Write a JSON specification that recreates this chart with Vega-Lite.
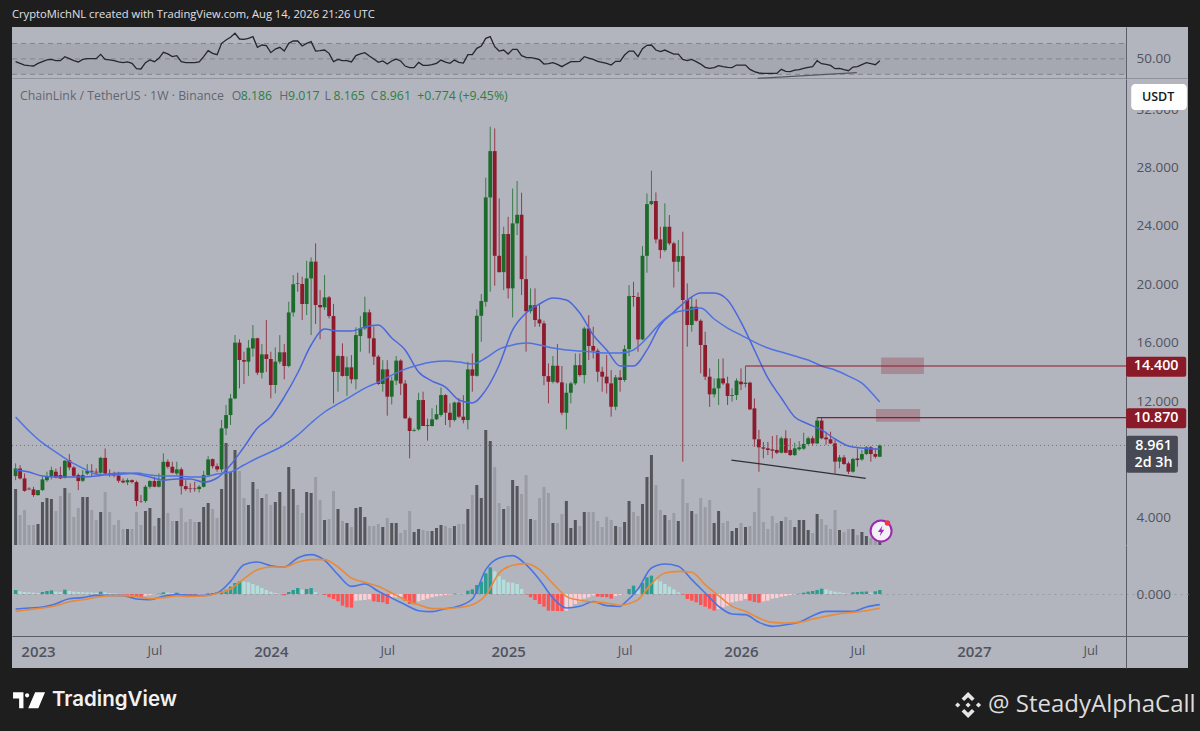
{
  "$schema": "https://vega.github.io/schema/vega-lite/v6.json",
  "background": "#1e1e1e",
  "padding": {"left": 11, "right": 8, "top": 0, "bottom": 0},
  "spacing": 0,
  "bounds": "flush",
  "config": {
    "font": "Open Sans",
    "axis": {"grid": false, "ticks": false, "title": null, "labelFont": "Open Sans", "labelColor": "#50535e", "domainColor": "#5a5d66"},
    "view": {"stroke": null}
  },
  "datasets": {
    "candles": [
      {"d":"2022-11-28","o":6.86,"h":7.73,"l":6.58,"c":7.38,"v":56,"hist":0.12,"rsi":46.4},
      {"d":"2022-12-05","o":7.38,"h":7.61,"l":6.63,"c":6.7,"v":30,"hist":0.08,"rsi":44.2},
      {"d":"2022-12-12","o":6.7,"h":7.04,"l":5.79,"c":5.85,"v":35,"hist":0.06,"rsi":42},
      {"d":"2022-12-19","o":6,"h":6.1,"l":5.9,"c":5.95,"v":20,"hist":0.05,"rsi":41.2},
      {"d":"2022-12-26","o":5.95,"h":6.13,"l":5.44,"c":5.56,"v":20,"hist":0.04,"rsi":40.8},
      {"d":"2023-01-02","o":5.56,"h":5.9,"l":5.51,"c":5.9,"v":21,"hist":0.03,"rsi":44.2},
      {"d":"2023-01-09","o":5.9,"h":6.81,"l":5.85,"c":6.63,"v":43,"hist":0.06,"rsi":46.4},
      {"d":"2023-01-16","o":6.58,"h":7.16,"l":6.47,"c":6.81,"v":47,"hist":0.09,"rsi":48.6},
      {"d":"2023-01-23","o":6.86,"h":7.5,"l":6.63,"c":7.27,"v":46,"hist":0.11,"rsi":49.4},
      {"d":"2023-01-30","o":7.16,"h":7.38,"l":6.7,"c":6.77,"v":34,"hist":0.07,"rsi":47.7},
      {"d":"2023-02-06","o":6.93,"h":7.5,"l":6.66,"c":6.7,"v":49,"hist":0.06,"rsi":47.7},
      {"d":"2023-02-13","o":6.75,"h":7.95,"l":6.7,"c":7.91,"v":57,"hist":0.13,"rsi":52.9},
      {"d":"2023-02-20","o":7.95,"h":8.37,"l":7.27,"c":7.45,"v":52,"hist":0.09,"rsi":50.3},
      {"d":"2023-02-27","o":7.45,"h":7.54,"l":6.81,"c":6.88,"v":28,"hist":0.07,"rsi":47.7},
      {"d":"2023-03-06","o":6.93,"h":7.04,"l":5.9,"c":6.52,"v":37,"hist":0.06,"rsi":46},
      {"d":"2023-03-13","o":6.54,"h":7.27,"l":6.45,"c":6.93,"v":48,"hist":0.055,"rsi":49.4},
      {"d":"2023-03-20","o":7.04,"h":7.68,"l":6.93,"c":7.22,"v":48,"hist":0.05,"rsi":50.3},
      {"d":"2023-03-27","o":7.22,"h":7.68,"l":6.81,"c":7.16,"v":35,"hist":0.045,"rsi":50.3},
      {"d":"2023-04-03","o":7.16,"h":7.38,"l":6.93,"c":7.11,"v":25,"hist":0.04,"rsi":50.3},
      {"d":"2023-04-10","o":7.09,"h":8.18,"l":7.04,"c":8.11,"v":33,"hist":0.07,"rsi":55.9},
      {"d":"2023-04-17","o":8.11,"h":8.75,"l":6.93,"c":7.04,"v":53,"hist":0.05,"rsi":49.4},
      {"d":"2023-04-24","o":7.04,"h":7.32,"l":6.81,"c":6.97,"v":33,"hist":0.03,"rsi":48.6},
      {"d":"2023-05-01","o":7.04,"h":7.16,"l":6.77,"c":6.9,"v":20,"hist":0.02,"rsi":47.7},
      {"d":"2023-05-08","o":6.9,"h":7.16,"l":6.4,"c":6.54,"v":25,"hist":0.005,"rsi":46},
      {"d":"2023-05-15","o":6.54,"h":6.7,"l":6.36,"c":6.43,"v":16,"hist":-0.01,"rsi":45.1},
      {"d":"2023-05-22","o":6.43,"h":6.7,"l":6.24,"c":6.58,"v":16,"hist":-0.02,"rsi":46},
      {"d":"2023-05-29","o":6.58,"h":6.63,"l":6.36,"c":6.45,"v":16,"hist":-0.05,"rsi":44.2},
      {"d":"2023-06-05","o":6.45,"h":6.54,"l":4.8,"c":5.15,"v":33,"hist":-0.07,"rsi":37.3},
      {"d":"2023-06-12","o":5.15,"h":5.56,"l":5.03,"c":5.12,"v":20,"hist":-0.09,"rsi":36.9},
      {"d":"2023-06-19","o":5.15,"h":6.24,"l":5.03,"c":6.13,"v":34,"hist":-0.05,"rsi":45.1},
      {"d":"2023-06-26","o":6.13,"h":6.58,"l":6,"c":6.52,"v":37,"hist":-0.03,"rsi":48.6},
      {"d":"2023-07-03","o":6.52,"h":6.8,"l":6.1,"c":6.13,"v":19,"hist":-0.01,"rsi":46.4},
      {"d":"2023-07-10","o":6.13,"h":7.04,"l":6.08,"c":6.54,"v":27,"hist":0.01,"rsi":50.7},
      {"d":"2023-07-17","o":6.58,"h":8.41,"l":6.52,"c":7.84,"v":67,"hist":0.05,"rsi":58.5},
      {"d":"2023-07-24","o":7.84,"h":8,"l":7.38,"c":7.5,"v":32,"hist":0.04,"rsi":56.4},
      {"d":"2023-07-31","o":7.5,"h":7.84,"l":7.04,"c":7.09,"v":24,"hist":0.03,"rsi":52.9},
      {"d":"2023-08-07","o":7.04,"h":7.84,"l":6.93,"c":7.32,"v":24,"hist":0.04,"rsi":54.2},
      {"d":"2023-08-14","o":7.32,"h":7.45,"l":5.6,"c":6.17,"v":37,"hist":0.02,"rsi":46.4},
      {"d":"2023-08-21","o":6.17,"h":6.58,"l":5.85,"c":5.97,"v":23,"hist":-0.01,"rsi":45.1},
      {"d":"2023-08-28","o":6.01,"h":6.36,"l":5.74,"c":5.97,"v":26,"hist":-0.04,"rsi":45.1},
      {"d":"2023-09-04","o":6.01,"h":6.47,"l":5.79,"c":5.97,"v":23,"hist":-0.05,"rsi":45.1},
      {"d":"2023-09-11","o":5.97,"h":6.24,"l":5.74,"c":6.13,"v":23,"hist":-0.04,"rsi":46},
      {"d":"2023-09-18","o":6.13,"h":7.22,"l":6.08,"c":6.93,"v":38,"hist":-0.02,"rsi":52.9},
      {"d":"2023-09-25","o":6.93,"h":8.23,"l":6.8,"c":8,"v":42,"hist":0.02,"rsi":60.7},
      {"d":"2023-10-02","o":8.02,"h":8.07,"l":7.38,"c":7.54,"v":36,"hist":0.03,"rsi":57.2},
      {"d":"2023-10-09","o":7.54,"h":7.73,"l":7.16,"c":7.32,"v":27,"hist":0.05,"rsi":55.5},
      {"d":"2023-10-16","o":7.32,"h":10.7,"l":7.1,"c":10.13,"v":56,"hist":0.08,"rsi":70.2},
      {"d":"2023-10-23","o":10.13,"h":11.73,"l":9.67,"c":11.04,"v":102,"hist":0.13,"rsi":74.5},
      {"d":"2023-10-30","o":11.04,"h":12.48,"l":10.36,"c":12.18,"v":73,"hist":0.22,"rsi":78},
      {"d":"2023-11-06","o":12.18,"h":16.52,"l":12.12,"c":16,"v":95,"hist":0.33,"rsi":83.2},
      {"d":"2023-11-13","o":16,"h":16.23,"l":12.87,"c":14.81,"v":74,"hist":0.38,"rsi":75.8},
      {"d":"2023-11-20","o":14.81,"h":15.38,"l":13.17,"c":14.7,"v":47,"hist":0.37,"rsi":75.4},
      {"d":"2023-11-27","o":14.7,"h":16.18,"l":13.71,"c":15.65,"v":40,"hist":0.35,"rsi":76.7},
      {"d":"2023-12-04","o":15.6,"h":17.2,"l":15.04,"c":16.3,"v":63,"hist":0.3,"rsi":78.9},
      {"d":"2023-12-11","o":16.3,"h":16.34,"l":13.78,"c":13.94,"v":56,"hist":0.25,"rsi":65},
      {"d":"2023-12-18","o":13.94,"h":15.9,"l":13.55,"c":15.2,"v":47,"hist":0.18,"rsi":68},
      {"d":"2023-12-25","o":15.2,"h":17.55,"l":14,"c":14.88,"v":51,"hist":0.12,"rsi":67.2},
      {"d":"2024-01-01","o":14.88,"h":15.38,"l":12.19,"c":13.1,"v":40,"hist":0.07,"rsi":58.1},
      {"d":"2024-01-08","o":13.1,"h":15.68,"l":12.53,"c":14.7,"v":43,"hist":0.03,"rsi":62.8},
      {"d":"2024-01-15","o":14.7,"h":16.52,"l":14.54,"c":15.34,"v":53,"hist":0.01,"rsi":65},
      {"d":"2024-01-22","o":15.34,"h":15.9,"l":13.49,"c":14.4,"v":39,"hist":-0.04,"rsi":60.2},
      {"d":"2024-01-29","o":14.4,"h":18.8,"l":14.31,"c":18.07,"v":78,"hist":0.06,"rsi":70.2},
      {"d":"2024-02-05","o":18.07,"h":20.63,"l":17.78,"c":20,"v":56,"hist":0.12,"rsi":73.2},
      {"d":"2024-02-12","o":20.06,"h":20.79,"l":19.49,"c":20.02,"v":40,"hist":0.18,"rsi":73.2},
      {"d":"2024-02-19","o":20.02,"h":20.52,"l":17.55,"c":18.65,"v":32,"hist":0.13,"rsi":66.7},
      {"d":"2024-02-26","o":18.65,"h":21.61,"l":17.89,"c":20.4,"v":53,"hist":0.15,"rsi":70.2},
      {"d":"2024-03-04","o":20.4,"h":21.84,"l":16.52,"c":21.55,"v":52,"hist":0.18,"rsi":72.4},
      {"d":"2024-03-11","o":21.55,"h":22.8,"l":17.28,"c":18.58,"v":68,"hist":0.06,"rsi":60.2},
      {"d":"2024-03-18","o":18.58,"h":19.6,"l":16.23,"c":18.42,"v":45,"hist":0,"rsi":60.7},
      {"d":"2024-03-25","o":18.42,"h":20.63,"l":18.24,"c":19.1,"v":25,"hist":-0.03,"rsi":61.5},
      {"d":"2024-04-01","o":19.1,"h":19.2,"l":17.66,"c":17.82,"v":26,"hist":-0.1,"rsi":57.2},
      {"d":"2024-04-08","o":17.82,"h":18.65,"l":11.84,"c":14,"v":54,"hist":-0.15,"rsi":46.4},
      {"d":"2024-04-15","o":14,"h":15.15,"l":12.64,"c":15.08,"v":36,"hist":-0.22,"rsi":49.4},
      {"d":"2024-04-22","o":15.08,"h":15.95,"l":13.67,"c":13.72,"v":24,"hist":-0.35,"rsi":47.7},
      {"d":"2024-04-29","o":13.72,"h":15.04,"l":12.35,"c":14.31,"v":22,"hist":-0.4,"rsi":47.7},
      {"d":"2024-05-06","o":14.31,"h":15.15,"l":13.2,"c":13.49,"v":18,"hist":-0.41,"rsi":46},
      {"d":"2024-05-13","o":13.49,"h":17.05,"l":12.8,"c":16.52,"v":37,"hist":-0.2,"rsi":54.2},
      {"d":"2024-05-20","o":16.45,"h":17.82,"l":15.38,"c":16.98,"v":38,"hist":-0.19,"rsi":56.4},
      {"d":"2024-05-27","o":16.98,"h":19.15,"l":16.87,"c":18.08,"v":28,"hist":-0.18,"rsi":58.1},
      {"d":"2024-06-03","o":18.08,"h":18.28,"l":15.27,"c":16.3,"v":19,"hist":-0.16,"rsi":53.8},
      {"d":"2024-06-10","o":16.3,"h":17.1,"l":14.47,"c":15.04,"v":19,"hist":-0.22,"rsi":49.8},
      {"d":"2024-06-17","o":15.04,"h":15.15,"l":13.1,"c":13.17,"v":21,"hist":-0.24,"rsi":45.5},
      {"d":"2024-06-24","o":13.17,"h":14.8,"l":12.64,"c":14.17,"v":18,"hist":-0.25,"rsi":47.3},
      {"d":"2024-07-01","o":14.17,"h":14.8,"l":11,"c":12.3,"v":27,"hist":-0.3,"rsi":43.4},
      {"d":"2024-07-08","o":12.3,"h":13.67,"l":11.77,"c":13.4,"v":22,"hist":-0.12,"rsi":47.3},
      {"d":"2024-07-15","o":13.4,"h":15.08,"l":13.1,"c":14.77,"v":22,"hist":-0.1,"rsi":49.8},
      {"d":"2024-07-22","o":14.77,"h":14.86,"l":12.41,"c":13.2,"v":12,"hist":-0.08,"rsi":47.3},
      {"d":"2024-07-29","o":13.2,"h":13.44,"l":10.77,"c":10.82,"v":15,"hist":-0.2,"rsi":40.7},
      {"d":"2024-08-05","o":10.82,"h":10.93,"l":8.08,"c":9.95,"v":34,"hist":-0.3,"rsi":38.6},
      {"d":"2024-08-12","o":9.95,"h":10.13,"l":9.9,"c":10,"v":13,"hist":-0.31,"rsi":38.6},
      {"d":"2024-08-19","o":10.06,"h":12.57,"l":9.97,"c":12.07,"v":16,"hist":-0.22,"rsi":45.5},
      {"d":"2024-08-26","o":12.07,"h":12.64,"l":10.29,"c":10.29,"v":15,"hist":-0.18,"rsi":41.6},
      {"d":"2024-09-02","o":10.35,"h":10.8,"l":9.29,"c":10.29,"v":14,"hist":-0.14,"rsi":41.6},
      {"d":"2024-09-09","o":10.29,"h":11.5,"l":10.25,"c":10.75,"v":14,"hist":-0.1,"rsi":42.5},
      {"d":"2024-09-16","o":10.75,"h":11.73,"l":10.7,"c":11.1,"v":17,"hist":-0.07,"rsi":44.2},
      {"d":"2024-09-23","o":11.05,"h":12.92,"l":10.93,"c":12.41,"v":20,"hist":-0.05,"rsi":48.5},
      {"d":"2024-09-30","o":12.41,"h":12.48,"l":10.36,"c":11.2,"v":19,"hist":-0.03,"rsi":45.9},
      {"d":"2024-10-07","o":11.2,"h":11.84,"l":10.2,"c":10.7,"v":17,"hist":-0.02,"rsi":44.2},
      {"d":"2024-10-14","o":10.7,"h":11.96,"l":10.59,"c":11.9,"v":19,"hist":0.01,"rsi":48.5},
      {"d":"2024-10-21","o":11.9,"h":12.2,"l":10.82,"c":10.93,"v":21,"hist":0.009,"rsi":45.5},
      {"d":"2024-10-28","o":10.93,"h":12.4,"l":10.47,"c":10.7,"v":21,"hist":0.008,"rsi":44.6},
      {"d":"2024-11-04","o":10.7,"h":14.69,"l":10.06,"c":14.17,"v":36,"hist":0.1,"rsi":55.5},
      {"d":"2024-11-11","o":14.17,"h":15.26,"l":12.64,"c":13.73,"v":50,"hist":0.14,"rsi":55.5},
      {"d":"2024-11-18","o":13.73,"h":18.28,"l":13.67,"c":17.84,"v":60,"hist":0.27,"rsi":63.7},
      {"d":"2024-11-25","o":17.84,"h":19.33,"l":16.06,"c":18.85,"v":47,"hist":0.37,"rsi":66.7},
      {"d":"2024-12-02","o":18.8,"h":27.3,"l":18.46,"c":25.95,"v":115,"hist":0.62,"rsi":76.7},
      {"d":"2024-12-09","o":25.95,"h":30.79,"l":19.49,"c":29.12,"v":104,"hist":0.8,"rsi":78.9},
      {"d":"2024-12-16","o":29.12,"h":30.67,"l":19.9,"c":21.95,"v":78,"hist":0.68,"rsi":65.9},
      {"d":"2024-12-23","o":21.95,"h":25.88,"l":20.81,"c":20.83,"v":42,"hist":0.53,"rsi":60.2},
      {"d":"2024-12-30","o":20.83,"h":23.94,"l":19.6,"c":23.44,"v":36,"hist":0.43,"rsi":61.5},
      {"d":"2025-01-06","o":23.44,"h":24.62,"l":19.03,"c":19.72,"v":39,"hist":0.35,"rsi":56.3},
      {"d":"2025-01-13","o":19.72,"h":26.56,"l":17.73,"c":24.17,"v":65,"hist":0.34,"rsi":62.4},
      {"d":"2025-01-20","o":24.17,"h":27.07,"l":23.37,"c":24.76,"v":59,"hist":0.3,"rsi":62.4},
      {"d":"2025-01-27","o":24.76,"h":26.27,"l":19.26,"c":20.35,"v":51,"hist":0.15,"rsi":54.2},
      {"d":"2025-02-03","o":20.35,"h":21.95,"l":15.38,"c":18.16,"v":70,"hist":-0.01,"rsi":52},
      {"d":"2025-02-10","o":18.16,"h":19.72,"l":18,"c":18.57,"v":26,"hist":-0.1,"rsi":51.6},
      {"d":"2025-02-17","o":18.57,"h":19.72,"l":17.09,"c":17.55,"v":25,"hist":-0.18,"rsi":50.7},
      {"d":"2025-02-24","o":17.59,"h":18.69,"l":17.09,"c":17.32,"v":47,"hist":-0.3,"rsi":49},
      {"d":"2025-03-03","o":17.32,"h":17.5,"l":13.09,"c":13.71,"v":58,"hist":-0.38,"rsi":43.3},
      {"d":"2025-03-10","o":13.71,"h":14.58,"l":11.84,"c":13.32,"v":52,"hist":-0.5,"rsi":43.8},
      {"d":"2025-03-17","o":13.32,"h":15.08,"l":13.21,"c":14.42,"v":22,"hist":-0.505,"rsi":45.1},
      {"d":"2025-03-24","o":14.42,"h":15.9,"l":13.21,"c":13.28,"v":22,"hist":-0.51,"rsi":42.9},
      {"d":"2025-03-31","o":13.28,"h":14.4,"l":11.04,"c":11.2,"v":31,"hist":-0.515,"rsi":39.9},
      {"d":"2025-04-07","o":11.2,"h":13.21,"l":10.06,"c":12.57,"v":44,"hist":-0.5,"rsi":43.3},
      {"d":"2025-04-14","o":12.57,"h":13.32,"l":11.84,"c":13.21,"v":17,"hist":-0.38,"rsi":46.4},
      {"d":"2025-04-21","o":13.21,"h":15.26,"l":13.09,"c":14.46,"v":25,"hist":-0.3,"rsi":46.4},
      {"d":"2025-04-28","o":14.46,"h":15.26,"l":13.67,"c":13.78,"v":19,"hist":-0.22,"rsi":46.8},
      {"d":"2025-05-05","o":13.78,"h":17.09,"l":13.21,"c":16.97,"v":33,"hist":-0.14,"rsi":52.9},
      {"d":"2025-05-12","o":16.97,"h":17.89,"l":14.81,"c":15.77,"v":33,"hist":-0.1,"rsi":51.1},
      {"d":"2025-05-19","o":15.77,"h":17.09,"l":14.92,"c":15.45,"v":33,"hist":-0.04,"rsi":49.4},
      {"d":"2025-05-26","o":15.45,"h":15.6,"l":13.32,"c":14.01,"v":24,"hist":-0.08,"rsi":46.8},
      {"d":"2025-06-02","o":14.01,"h":14.35,"l":12.64,"c":13.67,"v":18,"hist":-0.09,"rsi":45.5},
      {"d":"2025-06-09","o":13.67,"h":15.15,"l":12.52,"c":13.21,"v":28,"hist":-0.095,"rsi":44.2},
      {"d":"2025-06-16","o":13.21,"h":14.12,"l":10.93,"c":11.61,"v":25,"hist":-0.14,"rsi":42},
      {"d":"2025-06-23","o":11.61,"h":13.78,"l":11.38,"c":13.62,"v":19,"hist":-0.06,"rsi":46.8},
      {"d":"2025-06-30","o":13.62,"h":14.12,"l":12.64,"c":13.44,"v":18,"hist":-0.03,"rsi":46.8},
      {"d":"2025-07-07","o":13.44,"h":15.83,"l":13.32,"c":15.56,"v":23,"hist":-0.01,"rsi":55},
      {"d":"2025-07-14","o":15.56,"h":19.94,"l":15.08,"c":19.19,"v":44,"hist":0.15,"rsi":60.2},
      {"d":"2025-07-21","o":19.19,"h":20.17,"l":18.46,"c":19.13,"v":33,"hist":0.25,"rsi":60.2},
      {"d":"2025-07-28","o":19.13,"h":19.44,"l":15.38,"c":16.22,"v":29,"hist":0.13,"rsi":52.9},
      {"d":"2025-08-04","o":16.22,"h":22.61,"l":16.18,"c":21.95,"v":41,"hist":0.33,"rsi":63.3},
      {"d":"2025-08-11","o":21.95,"h":26.22,"l":20.79,"c":25.49,"v":68,"hist":0.5,"rsi":67.6},
      {"d":"2025-08-18","o":25.49,"h":27.77,"l":25.42,"c":25.7,"v":90,"hist":0.55,"rsi":68},
      {"d":"2025-08-25","o":25.7,"h":26.29,"l":22.8,"c":23.07,"v":60,"hist":0.45,"rsi":61.5},
      {"d":"2025-09-01","o":23.07,"h":23.94,"l":21.77,"c":22.34,"v":35,"hist":0.38,"rsi":59.4},
      {"d":"2025-09-08","o":22.34,"h":25.54,"l":22.23,"c":23.94,"v":30,"hist":0.3,"rsi":61.5},
      {"d":"2025-09-15","o":23.94,"h":24.74,"l":22.68,"c":22.8,"v":25,"hist":0.22,"rsi":58.9},
      {"d":"2025-09-22","o":22.8,"h":22.91,"l":19.78,"c":21.54,"v":32,"hist":0.14,"rsi":56.3},
      {"d":"2025-09-29","o":21.54,"h":23.03,"l":20.86,"c":21.93,"v":24,"hist":0.05,"rsi":56.3},
      {"d":"2025-10-06","o":21.93,"h":23.6,"l":7.85,"c":18.92,"v":66,"hist":-0.02,"rsi":49.4},
      {"d":"2025-10-13","o":18.92,"h":20.06,"l":15.72,"c":17.21,"v":42,"hist":-0.15,"rsi":47.7},
      {"d":"2025-10-20","o":17.21,"h":19.15,"l":16.75,"c":18.46,"v":34,"hist":-0.2,"rsi":49.4},
      {"d":"2025-10-27","o":18.46,"h":18.97,"l":17.44,"c":17.5,"v":31,"hist":-0.25,"rsi":46.4},
      {"d":"2025-11-03","o":17.5,"h":17.6,"l":13.9,"c":15.84,"v":47,"hist":-0.33,"rsi":43.3},
      {"d":"2025-11-10","o":15.84,"h":16.75,"l":13.44,"c":13.67,"v":38,"hist":-0.38,"rsi":39},
      {"d":"2025-11-17","o":13.67,"h":14.24,"l":11.6,"c":12.46,"v":45,"hist":-0.44,"rsi":37.7},
      {"d":"2025-11-24","o":12.46,"h":13.55,"l":12.25,"c":12.87,"v":22,"hist":-0.5,"rsi":38.6},
      {"d":"2025-12-01","o":12.87,"h":14.88,"l":11.73,"c":13.55,"v":34,"hist":-0.45,"rsi":41.2},
      {"d":"2025-12-08","o":13.55,"h":14.92,"l":13.1,"c":13.21,"v":22,"hist":-0.4,"rsi":39.9},
      {"d":"2025-12-15","o":13.21,"h":13.67,"l":11.73,"c":12.35,"v":24,"hist":-0.35,"rsi":39},
      {"d":"2025-12-22","o":12.35,"h":12.87,"l":11.96,"c":12.41,"v":14,"hist":-0.25,"rsi":38.6},
      {"d":"2025-12-29","o":12.41,"h":13.55,"l":12.07,"c":13.4,"v":17,"hist":-0.22,"rsi":42},
      {"d":"2026-01-05","o":13.33,"h":14.24,"l":12.75,"c":13.15,"v":22,"hist":-0.2,"rsi":42},
      {"d":"2026-01-12","o":13.17,"h":14.4,"l":12.94,"c":13.26,"v":18,"hist":-0.15,"rsi":42},
      {"d":"2026-01-19","o":13.26,"h":13.33,"l":11.38,"c":11.43,"v":19,"hist":-0.2,"rsi":36.4},
      {"d":"2026-01-26","o":11.5,"h":12.18,"l":8.87,"c":9.38,"v":33,"hist":-0.24,"rsi":33.4},
      {"d":"2026-02-02","o":9.38,"h":10.02,"l":7.16,"c":8.83,"v":57,"hist":-0.26,"rsi":31.7},
      {"d":"2026-02-09","o":8.83,"h":9.2,"l":8.08,"c":8.74,"v":23,"hist":-0.22,"rsi":31.2},
      {"d":"2026-02-16","o":8.76,"h":9.2,"l":8.3,"c":8.65,"v":16,"hist":-0.2,"rsi":31.2},
      {"d":"2026-02-23","o":8.69,"h":9.6,"l":8.07,"c":8.6,"v":29,"hist":-0.14,"rsi":31.2},
      {"d":"2026-03-02","o":8.65,"h":9.67,"l":8.37,"c":8.46,"v":22,"hist":-0.12,"rsi":31.2},
      {"d":"2026-03-09","o":8.46,"h":9.56,"l":8.42,"c":9.45,"v":24,"hist":-0.08,"rsi":36.4},
      {"d":"2026-03-16","o":9.45,"h":10,"l":8.42,"c":8.46,"v":28,"hist":-0.06,"rsi":33.8},
      {"d":"2026-03-23","o":8.65,"h":9.45,"l":8.24,"c":8.3,"v":25,"hist":-0.03,"rsi":33.4},
      {"d":"2026-03-30","o":8.3,"h":9.15,"l":8.24,"c":8.76,"v":18,"hist":-0.01,"rsi":35.5},
      {"d":"2026-04-06","o":8.7,"h":9.25,"l":8.6,"c":8.83,"v":25,"hist":0.01,"rsi":36},
      {"d":"2026-04-13","o":8.74,"h":9.83,"l":8.65,"c":9.06,"v":25,"hist":0.04,"rsi":37.7},
      {"d":"2026-04-20","o":9.06,"h":9.56,"l":9,"c":9.45,"v":15,"hist":0.07,"rsi":39},
      {"d":"2026-04-27","o":9.45,"h":9.6,"l":8.92,"c":9.1,"v":12,"hist":0.09,"rsi":39.9},
      {"d":"2026-05-04","o":9.1,"h":10.87,"l":9.06,"c":10.66,"v":31,"hist":0.12,"rsi":47.7},
      {"d":"2026-05-11","o":10.66,"h":10.87,"l":9.38,"c":9.45,"v":26,"hist":0.16,"rsi":43.8},
      {"d":"2026-05-18","o":9.5,"h":9.9,"l":9,"c":9.38,"v":20,"hist":0.14,"rsi":42.9},
      {"d":"2026-05-25","o":9.38,"h":9.9,"l":9.06,"c":9.1,"v":16,"hist":0.1,"rsi":41.6},
      {"d":"2026-06-01","o":9.1,"h":9.33,"l":7.05,"c":7.85,"v":35,"hist":0.07,"rsi":37.3},
      {"d":"2026-06-08","o":7.85,"h":8.3,"l":7.39,"c":8.14,"v":15,"hist":0.05,"rsi":37.7},
      {"d":"2026-06-15","o":8.14,"h":8.3,"l":7.62,"c":7.69,"v":13,"hist":0.03,"rsi":36},
      {"d":"2026-06-22","o":7.73,"h":7.85,"l":7,"c":7.16,"v":16,"hist":0.01,"rsi":34.7},
      {"d":"2026-06-29","o":7.16,"h":8.12,"l":7.09,"c":8.03,"v":16,"hist":0.05,"rsi":39.4},
      {"d":"2026-07-06","o":8.07,"h":8.76,"l":7.5,"c":7.96,"v":10,"hist":0.06,"rsi":39.9},
      {"d":"2026-07-13","o":8,"h":8.65,"l":7.9,"c":8.37,"v":13,"hist":0.07,"rsi":42.5},
      {"d":"2026-07-20","o":8.37,"h":8.92,"l":8.3,"c":8.83,"v":9,"hist":0.075,"rsi":45.1},
      {"d":"2026-07-27","o":8.83,"h":8.92,"l":7.85,"c":8.37,"v":7,"hist":0.04,"rsi":43.8},
      {"d":"2026-08-03","o":8.37,"h":8.76,"l":8.07,"c":8.19,"v":5,"hist":0.08,"rsi":42.5},
      {"d":"2026-08-10","o":8.186,"h":9.017,"l":8.165,"c":8.961,"v":3,"hist":0.12,"rsi":47.7}
    ],
    "averages": [
      {"d":"2022-11-28","fast":7.28,"slow":10.91},{"d":"2022-12-19","fast":7.14,"slow":9.95},{"d":"2023-01-09","fast":6.86,"slow":9.13},
      {"d":"2023-01-30","fast":6.8,"slow":8.51},{"d":"2023-02-20","fast":6.8,"slow":7.89},{"d":"2023-03-13","fast":6.8,"slow":7.41},
      {"d":"2023-04-03","fast":6.86,"slow":7},{"d":"2023-04-24","fast":7,"slow":6.93},{"d":"2023-05-15","fast":7.07,"slow":7},
      {"d":"2023-06-05","fast":7,"slow":7.07},{"d":"2023-06-26","fast":6.8,"slow":6.93},{"d":"2023-07-17","fast":6.59,"slow":6.86},
      {"d":"2023-08-07","fast":6.66,"slow":6.86},{"d":"2023-08-28","fast":6.66,"slow":6.8},{"d":"2023-09-18","fast":6.45,"slow":6.8},
      {"d":"2023-10-09","fast":6.73,"slow":7},{"d":"2023-10-30","fast":7.62,"slow":7.14},{"d":"2023-11-20","fast":8.85,"slow":7.62},
      {"d":"2023-12-11","fast":10.15,"slow":8.1},{"d":"2024-01-01","fast":10.91,"slow":8.51},{"d":"2024-01-22","fast":12.28,"slow":8.99},
      {"d":"2024-02-12","fast":13.92,"slow":9.67},{"d":"2024-03-04","fast":15.84,"slow":10.5},{"d":"2024-03-25","fast":16.93,"slow":11.25},
      {"d":"2024-04-15","fast":16.8,"slow":11.8},{"d":"2024-05-06","fast":16.8,"slow":12.34},{"d":"2024-05-27","fast":17.07,"slow":12.89},
      {"d":"2024-06-17","fast":17.21,"slow":13.3},{"d":"2024-07-08","fast":16.32,"slow":13.78},{"d":"2024-07-29","fast":15.5,"slow":14.19},
      {"d":"2024-08-19","fast":13.99,"slow":14.47},{"d":"2024-09-09","fast":13.37,"slow":14.67},{"d":"2024-09-30","fast":12.96,"slow":14.74},
      {"d":"2024-10-21","fast":12.07,"slow":14.67},{"d":"2024-11-11","fast":11.87,"slow":14.54},{"d":"2024-12-02","fast":12.75,"slow":14.95},
      {"d":"2024-12-23","fast":14.47,"slow":15.56},{"d":"2025-01-13","fast":16.87,"slow":15.84},{"d":"2025-02-03","fast":18.03,"slow":15.97},
      {"d":"2025-02-24","fast":18.65,"slow":15.84},{"d":"2025-03-17","fast":19.06,"slow":15.63},{"d":"2025-04-07","fast":18.92,"slow":15.5},
      {"d":"2025-04-28","fast":18.03,"slow":15.43},{"d":"2025-05-19","fast":16.52,"slow":15.36},{"d":"2025-06-09","fast":15.5,"slow":15.29},
      {"d":"2025-06-30","fast":14.4,"slow":15.29},{"d":"2025-07-21","fast":14.4,"slow":15.5},{"d":"2025-08-11","fast":15.5,"slow":16.32},
      {"d":"2025-09-01","fast":17.21,"slow":17.34},{"d":"2025-09-22","fast":18.1,"slow":18.03},{"d":"2025-10-13","fast":18.92,"slow":18.24},
      {"d":"2025-11-03","fast":19.4,"slow":18.37},{"d":"2025-11-24","fast":19.4,"slow":17.62},{"d":"2025-12-15","fast":18.92,"slow":17},
      {"d":"2026-01-05","fast":17.41,"slow":16.52},{"d":"2026-01-26","fast":15.5,"slow":16.04},{"d":"2026-02-16","fast":13.58,"slow":15.63},
      {"d":"2026-03-09","fast":12.21,"slow":15.36},{"d":"2026-03-30","fast":10.91,"slow":15.08},{"d":"2026-04-20","fast":10.43,"slow":14.81},
      {"d":"2026-05-11","fast":10.02,"slow":14.4},{"d":"2026-06-01","fast":9.4,"slow":14.13},{"d":"2026-06-22","fast":8.92,"slow":13.71},
      {"d":"2026-07-13","fast":8.78,"slow":13.23},{"d":"2026-08-03","fast":8.71,"slow":12.28},{"d":"2026-08-10","fast":8.71,"slow":11.93}
    ],
    "macd": [
      {"d":"2022-11-28","macd":-0.45,"signal":-0.52},{"d":"2022-12-19","macd":-0.42,"signal":-0.47},{"d":"2023-01-09","macd":-0.39,"signal":-0.42},
      {"d":"2023-01-30","macd":-0.29,"signal":-0.35},{"d":"2023-02-20","macd":-0.14,"signal":-0.23},{"d":"2023-03-13","macd":-0.11,"signal":-0.17},
      {"d":"2023-04-03","macd":-0.04,"signal":-0.1},{"d":"2023-04-24","macd":-0.04,"signal":-0.05},{"d":"2023-05-15","macd":-0.05,"signal":-0.05},
      {"d":"2023-06-05","macd":-0.15,"signal":-0.08},{"d":"2023-06-26","macd":-0.17,"signal":-0.14},{"d":"2023-07-17","macd":-0.07,"signal":-0.11},
      {"d":"2023-08-07","macd":-0.01,"signal":-0.06},{"d":"2023-08-28","macd":-0.04,"signal":-0.07},{"d":"2023-09-18","macd":-0.04,"signal":-0.06},
      {"d":"2023-10-09","macd":0.03,"signal":0.02},{"d":"2023-10-30","macd":0.38,"signal":0.15},{"d":"2023-11-20","macd":0.88,"signal":0.46},
      {"d":"2023-12-11","macd":0.96,"signal":0.73},{"d":"2024-01-01","macd":0.85,"signal":0.81},{"d":"2024-01-22","macd":0.81,"signal":0.81},
      {"d":"2024-02-12","macd":1.08,"signal":0.95},{"d":"2024-03-04","macd":1.18,"signal":1.03},{"d":"2024-03-25","macd":1.01,"signal":1.03},
      {"d":"2024-04-15","macd":0.58,"signal":0.81},{"d":"2024-05-06","macd":0.23,"signal":0.48},{"d":"2024-05-27","macd":0.3,"signal":0.35},
      {"d":"2024-06-17","macd":0.08,"signal":0.23},{"d":"2024-07-08","macd":-0.12,"signal":0.03},{"d":"2024-07-29","macd":-0.32,"signal":-0.17},
      {"d":"2024-08-19","macd":-0.5,"signal":-0.32},{"d":"2024-09-09","macd":-0.53,"signal":-0.44},{"d":"2024-09-30","macd":-0.44,"signal":-0.44},
      {"d":"2024-10-14","macd":-0.4,"signal":-0.42},{"d":"2024-11-11","macd":-0.15,"signal":-0.32},{"d":"2024-12-02","macd":0.73,"signal":-0.04},
      {"d":"2024-12-23","macd":1.08,"signal":0.63},{"d":"2025-01-13","macd":1.15,"signal":0.86},{"d":"2025-02-03","macd":0.88,"signal":0.91},
      {"d":"2025-02-24","macd":0.43,"signal":0.73},{"d":"2025-03-17","macd":-0.12,"signal":0.31},{"d":"2025-04-07","macd":-0.42,"signal":-0.07},
      {"d":"2025-04-28","macd":-0.37,"signal":-0.19},{"d":"2025-05-19","macd":-0.23,"signal":-0.24},{"d":"2025-06-09","macd":-0.35,"signal":-0.27},
      {"d":"2025-06-30","macd":-0.37,"signal":-0.34},{"d":"2025-07-07","macd":-0.27,"signal":-0.32},{"d":"2025-07-28","macd":0.15,"signal":-0.17},
      {"d":"2025-08-18","macd":0.78,"signal":0.31},{"d":"2025-09-08","macd":0.9,"signal":0.63},{"d":"2025-09-29","macd":0.83,"signal":0.68},
      {"d":"2025-10-20","macd":0.43,"signal":0.65},{"d":"2025-11-10","macd":0.03,"signal":0.28},{"d":"2025-12-01","macd":-0.37,"signal":-0.05},
      {"d":"2025-12-22","macd":-0.6,"signal":-0.37},{"d":"2026-01-12","macd":-0.62,"signal":-0.52},{"d":"2026-02-02","macd":-0.85,"signal":-0.72},
      {"d":"2026-02-23","macd":-0.97,"signal":-0.85},{"d":"2026-03-16","macd":-0.92,"signal":-0.87},{"d":"2026-04-06","macd":-0.85,"signal":-0.85},
      {"d":"2026-04-27","macd":-0.65,"signal":-0.75},{"d":"2026-05-18","macd":-0.52,"signal":-0.67},{"d":"2026-06-08","macd":-0.52,"signal":-0.59},
      {"d":"2026-06-29","macd":-0.52,"signal":-0.55},{"d":"2026-07-20","macd":-0.39,"signal":-0.5},{"d":"2026-08-10","macd":-0.32,"signal":-0.43}
    ]
  },
  "vconcat": [
    {
      "width": 1176, "height": 27,
      "data": {"values": [{"a": 0, "b": 0.55, "t": "CryptoMichNL created with TradingView.com, Aug 14, 2026 21:26 UTC"}]},
      "mark": {"type": "text", "align": "left", "baseline": "middle", "font": "Open Sans", "fontSize": 11.2, "fontWeight": 500, "color": "#e0e1e6"},
      "encoding": {
        "x": {"field": "a", "type": "quantitative", "scale": {"domain": [0, 100]}, "axis": null},
        "y": {"field": "b", "type": "quantitative", "scale": {"domain": [0, 1], "reverse": true}, "axis": null},
        "text": {"field": "t"}
      }
    },
    {
      "width": 1176, "height": 52,
      "view": {"fill": "#b2b5be"},
      "encoding": {
        "x": {"field": "d", "type": "temporal", "scale": {"domain": ["2022-11-22T09:00:00", "2027-12-04T19:00:00"], "padding": 0, "nice": false},
          "axis": {"labels": false, "domainColor": "#34363c", "domainWidth": 1.4}}
      },
      "layer": [
        {
          "data": {"values": [{"d": "2022-11-22T09:00:00", "d2": "2027-08-30", "top": 70, "bottom": 30}]},
          "mark": {"type": "rect", "color": "#a6a8b1"},
          "encoding": {
            "x2": {"field": "d2"},
            "y": {"field": "top", "type": "quantitative", "scale": {"domain": [23.9, 91.4]},
              "axis": {"orient": "right", "offset": -62, "values": [50], "format": ".2f", "labelFontSize": 13.5, "labelPadding": 10}},
            "y2": {"field": "bottom"}
          }
        },
        {
          "data": {"values": [
            {"d": "2022-11-22T09:00:00", "d2": "2027-08-30", "level": 70},
            {"d": "2022-11-22T09:00:00", "d2": "2027-08-30", "level": 50},
            {"d": "2022-11-22T09:00:00", "d2": "2027-08-30", "level": 30}
          ]},
          "mark": {"type": "rule", "color": "#83858e", "strokeDash": [5, 4], "strokeWidth": 1},
          "encoding": {"x2": {"field": "d2"}, "y": {"field": "level", "type": "quantitative", "scale": {"domain": [23.9, 91.4]}}}
        },
        {
          "data": {"name": "candles"},
          "mark": {"type": "line", "color": "#26272c", "strokeWidth": 1.3, "clip": true},
          "encoding": {"y": {"field": "rsi", "type": "quantitative", "scale": {"domain": [23.9, 91.4]}}}
        },
        {
          "data": {"values": [{"d": "2026-01-31", "rsi": 24.8}, {"d": "2026-07-05", "rsi": 32.1}]},
          "mark": {"type": "line", "color": "#55575e", "strokeWidth": 1.3, "clip": true},
          "encoding": {"y": {"field": "rsi", "type": "quantitative", "scale": {"domain": [23.9, 91.4]}}}
        }
      ]
    },
    {
      "width": 1176, "height": 466,
      "view": {"fill": "#b2b5be"},
      "encoding": {
        "x": {"field": "d", "type": "temporal", "scale": {"domain": ["2022-11-22T09:00:00", "2027-12-04T19:00:00"], "padding": 0, "nice": false},
          "axis": {"labels": false, "domainColor": "#34363c", "domainWidth": 1.2}}
      },
      "resolve": {"scale": {"y": "independent"}},
      "layer": [
        {
          "data": {"name": "candles"},
          "mark": {"type": "bar", "width": 3},
          "encoding": {
            "y": {"field": "v", "type": "quantitative", "scale": {"domain": [0, 466]}, "axis": null},
            "color": {"condition": {"test": "datum.c >= datum.o", "value": "#55565c"}, "value": "#9a9ca3"}
          }
        },
        {
          "layer": [
            {
              "data": {"name": "candles"},
              "mark": {"type": "rule", "strokeWidth": 1, "opacity": 0.8},
              "encoding": {
                "y": {"field": "l", "type": "quantitative", "scale": {"domain": [2.14, 34.06]},
                  "axis": {"orient": "right", "offset": -62, "values": [4, 12, 16, 20, 24, 28, 32], "format": ".3f", "labelFontSize": 13.5, "labelPadding": 10}},
                "y2": {"field": "h"},
                "color": {"condition": {"test": "datum.c >= datum.o", "value": "#1c6b2a"}, "value": "#8e1b2c"}
              }
            },
            {
              "data": {"name": "candles"},
              "mark": {"type": "bar", "width": 3.8},
              "encoding": {
                "y": {"field": "o", "type": "quantitative", "scale": {"domain": [2.14, 34.06]}},
                "y2": {"field": "c"},
                "color": {"condition": {"test": "datum.c >= datum.o", "value": "#1c6b2a"}, "value": "#8e1b2c"}
              }
            },
            {
              "data": {"name": "averages"},
              "mark": {"type": "line", "color": "#4c66dc", "strokeWidth": 1.5, "interpolate": "monotone"},
              "encoding": {"y": {"field": "fast", "type": "quantitative", "scale": {"domain": [2.14, 34.06]}}}
            },
            {
              "data": {"name": "averages"},
              "mark": {"type": "line", "color": "#4f72e2", "strokeWidth": 1.5, "interpolate": "monotone"},
              "encoding": {"y": {"field": "slow", "type": "quantitative", "scale": {"domain": [2.14, 34.06]}}}
            },
            {
              "data": {"values": [{"d": "2022-11-22T09:00:00", "d2": "2027-08-30", "p": 8.961}]},
              "mark": {"type": "rule", "color": "#6f7179", "strokeDash": [1, 3], "strokeWidth": 1},
              "encoding": {"x2": {"field": "d2"}, "y": {"field": "p", "type": "quantitative", "scale": {"domain": [2.14, 34.06]}}}
            },
            {
              "data": {"values": [
                {"d": "2026-08-12", "d2": "2026-10-18", "p": 14.99, "p2": 13.85},
                {"d": "2026-08-04", "d2": "2026-10-12", "p": 11.45, "p2": 10.58}
              ]},
              "mark": {"type": "rect", "color": "#8e1b2c", "opacity": 0.28},
              "encoding": {"x2": {"field": "d2"}, "y": {"field": "p", "type": "quantitative", "scale": {"domain": [2.14, 34.06]}}, "y2": {"field": "p2"}}
            },
            {
              "data": {"values": [
                {"d": "2026-01-12", "d2": "2027-08-30", "p": 14.4},
                {"d": "2026-05-04", "d2": "2027-08-30", "p": 10.87}
              ]},
              "mark": {"type": "rule", "color": "#8e1b2c", "strokeWidth": 1.2},
              "encoding": {"x2": {"field": "d2"}, "y": {"field": "p", "type": "quantitative", "scale": {"domain": [2.14, 34.06]}}}
            },
            {
              "data": {"values": [{"d": "2025-12-21", "p": 7.96}, {"d": "2026-07-19", "p": 6.71}]},
              "mark": {"type": "line", "color": "#2f3036", "strokeWidth": 1.2},
              "encoding": {"y": {"field": "p", "type": "quantitative", "scale": {"domain": [2.14, 34.06]}}}
            },
            {
              "data": {"values": [
                {"d": "2027-08-30", "d2": "2027-12-02", "p": 15.03, "p2": 13.66},
                {"d": "2027-08-30", "d2": "2027-12-02", "p": 11.5, "p2": 10.13}
              ]},
              "mark": {"type": "rect", "color": "#8a1a28", "cornerRadius": 2},
              "encoding": {"x2": {"field": "d2"}, "y": {"field": "p", "type": "quantitative", "scale": {"domain": [2.14, 34.06]}}, "y2": {"field": "p2"}}
            },
            {
              "data": {"values": [{"d": "2027-08-30", "d2": "2027-11-19", "p": 9.62, "p2": 7.09}]},
              "mark": {"type": "rect", "color": "#474a55", "cornerRadius": 2},
              "encoding": {"x2": {"field": "d2"}, "y": {"field": "p", "type": "quantitative", "scale": {"domain": [2.14, 34.06]}}, "y2": {"field": "p2"}}
            },
            {
              "data": {"values": [{"d": "2027-09-07", "d2": "2027-12-03", "p": 33.72, "p2": 31.93}]},
              "mark": {"type": "rect", "color": "#ffffff", "cornerRadius": 4},
              "encoding": {"x2": {"field": "d2"}, "y": {"field": "p", "type": "quantitative", "scale": {"domain": [2.14, 34.06]}}, "y2": {"field": "p2"}}
            },
            {
              "data": {"values": [
                {"d": "2027-10-16", "p": 14.37, "t": "14.400"},
                {"d": "2027-10-16", "p": 10.84, "t": "10.870"},
                {"d": "2027-10-12", "p": 8.93, "t": "8.961"},
                {"d": "2027-10-12", "p": 7.77, "t": "2d 3h"}
              ]},
              "mark": {"type": "text", "color": "#ffffff", "fontSize": 14.3, "fontWeight": 600, "font": "Open Sans"},
              "encoding": {"y": {"field": "p", "type": "quantitative", "scale": {"domain": [2.14, 34.06]}}, "text": {"field": "t"}}
            },
            {
              "data": {"values": [{"d": "2027-10-19", "p": 32.83, "t": "USDT"}]},
              "mark": {"type": "text", "color": "#131722", "fontSize": 12.5, "fontWeight": 600, "font": "Open Sans"},
              "encoding": {"y": {"field": "p", "type": "quantitative", "scale": {"domain": [2.14, 34.06]}}, "text": {"field": "t"}}
            },
            {
              "data": {"values": [
                {"d": "2022-12-05", "p": 32.9, "t": "ChainLink / TetherUS · 1W · Binance"},
                {"d": "2023-11-01", "p": 32.9, "t": "O"},
                {"d": "2024-01-14", "p": 32.9, "t": "H"},
                {"d": "2024-03-25", "p": 32.9, "t": "L"},
                {"d": "2024-06-05", "p": 32.9, "t": "C"}
              ]},
              "mark": {"type": "text", "align": "left", "color": "#62656f", "fontSize": 12.3, "font": "Open Sans"},
              "encoding": {"y": {"field": "p", "type": "quantitative", "scale": {"domain": [2.14, 34.06]}}, "text": {"field": "t"}}
            },
            {
              "data": {"values": [
                {"d": "2023-11-15", "p": 32.9, "t": "8.186"},
                {"d": "2024-01-28", "p": 32.9, "t": "9.017"},
                {"d": "2024-04-08", "p": 32.9, "t": "8.165"},
                {"d": "2024-06-19", "p": 32.9, "t": "8.961"},
                {"d": "2024-08-17", "p": 32.9, "t": "+0.774 (+9.45%)"}
              ]},
              "mark": {"type": "text", "align": "left", "color": "#2f7d43", "fontSize": 12.3, "font": "Open Sans"},
              "encoding": {"y": {"field": "p", "type": "quantitative", "scale": {"domain": [2.14, 34.06]}}, "text": {"field": "t"}}
            },
            {
              "data": {"values": [{"d": "2026-08-12", "p": 3.1}]},
              "mark": {"type": "point", "shape": "circle", "size": 440, "filled": true, "fill": "#f4f0f7", "stroke": "#9c27b0", "strokeWidth": 2, "opacity": 1},
              "encoding": {"y": {"field": "p", "type": "quantitative", "scale": {"domain": [2.14, 34.06]}}}
            },
            {
              "data": {"values": [{"d": "2026-08-12", "p": 3.1}]},
              "mark": {"type": "point", "shape": "M0.25,-1 L-0.6,0.2 L-0.05,0.2 L-0.25,1 L0.6,-0.25 L0.05,-0.25 Z", "size": 110, "filled": true, "color": "#9c27b0", "opacity": 1},
              "encoding": {"y": {"field": "p", "type": "quantitative", "scale": {"domain": [2.14, 34.06]}}}
            },
            {
              "data": {"values": [{"d": "2026-08-22", "p": 3.64}]},
              "mark": {"type": "point", "shape": "circle", "size": 30, "filled": true, "color": "#f23645", "opacity": 1},
              "encoding": {"y": {"field": "p", "type": "quantitative", "scale": {"domain": [2.14, 34.06]}}}
            }
          ]
        }
      ]
    },
    {
      "width": 1176, "height": 123,
      "view": {"fill": "#b2b5be"},
      "encoding": {
        "x": {"field": "d", "type": "temporal", "scale": {"domain": ["2022-11-22T09:00:00", "2027-12-04T19:00:00"], "padding": 0, "nice": false},
          "axis": {
            "offset": -32, "labelPadding": 8, "labelColor": "#50535e",
            "values": ["2023-01-02", "2023-07-03", "2024-01-01", "2024-07-01", "2025-01-06", "2025-07-07", "2026-01-05", "2026-07-06", "2027-01-04", "2027-07-05"],
            "labelExpr": "utcmonth(datum.value) == 0 ? utcFormat(datum.value, '%Y') : 'Jul'",
            "labelFontSize": {"expr": "utcmonth(datum.value) == 0 ? 15 : 13"},
            "labelFontWeight": {"expr": "utcmonth(datum.value) == 0 ? 600 : 400"}
          }}
      },
      "layer": [
        {
          "data": {"name": "candles"},
          "transform": [{"window": [{"op": "lag", "field": "hist", "as": "prev"}]}],
          "mark": {"type": "bar", "width": 3.4},
          "encoding": {
            "y": {"field": "hist", "type": "quantitative", "scale": {"domain": [-2.22, 1.47]},
              "axis": {"orient": "right", "offset": -62, "values": [0], "format": ".3f", "labelFontSize": 13.5, "labelPadding": 10, "grid": true, "gridColor": "#979aa3", "gridDash": [2, 4]}},
            "color": {"condition": [
              {"test": "datum.hist >= 0 && datum.hist >= datum.prev", "value": "#2a9d8f"},
              {"test": "datum.hist >= 0", "value": "#b2dfdb"},
              {"test": "datum.hist <= datum.prev", "value": "#ff5252"}
            ], "value": "#ffcdd2"}
          }
        },
        {
          "data": {"name": "macd"},
          "mark": {"type": "line", "color": "#4a74e4", "strokeWidth": 1.6, "interpolate": "monotone"},
          "encoding": {"y": {"field": "macd", "type": "quantitative", "scale": {"domain": [-2.22, 1.47]}}}
        },
        {
          "data": {"name": "macd"},
          "mark": {"type": "line", "color": "#e88a3a", "strokeWidth": 1.6, "interpolate": "monotone"},
          "encoding": {"y": {"field": "signal", "type": "quantitative", "scale": {"domain": [-2.22, 1.47]}}}
        }
      ]
    },
    {
      "width": 1176, "height": 63,
      "encoding": {
        "x": {"field": "a", "type": "quantitative", "scale": {"domain": [0, 100]}, "axis": null},
        "y": {"field": "b", "type": "quantitative", "scale": {"domain": [0, 1], "reverse": true}, "axis": null}
      },
      "layer": [
        {
          "data": {"values": [{"a": 1.45, "b": 0.51}]},
          "mark": {"type": "point", "filled": true, "color": "#ffffff", "opacity": 1, "size": 1024,
            "shape": "M-1,-0.5 H-0.35 V0.5 H-0.62 V-0.1 H-1 Z M-0.25,-0.3 a0.13,0.13 0 1,0 0.26,0 a0.13,0.13 0 1,0 -0.26,0 Z M0.38,-0.5 H1 L0.58,0.5 H-0.05 Z"}
        },
        {
          "data": {"values": [{"a": 3.4, "b": 0.51, "t": "TradingView"}]},
          "mark": {"type": "text", "align": "left", "font": "Inter", "fontSize": 20.5, "fontWeight": 600, "color": "#f2f2f2"},
          "encoding": {"text": {"field": "t"}}
        },
        {
          "data": {"values": [{"a": 81.3, "b": 0.587}]},
          "mark": {"type": "point", "filled": true, "color": "#e6e6e6", "opacity": 1, "size": 676,
            "shape": "M0,-0.2 L0.2,0 L0,0.2 L-0.2,0 Z M0,-1 L0.5,-0.5 L0.3,-0.3 L0,-0.6 L-0.3,-0.3 L-0.5,-0.5 Z M0,1 L0.5,0.5 L0.3,0.3 L0,0.6 L-0.3,0.3 L-0.5,0.5 Z M-0.8,-0.2 L-0.6,0 L-0.8,0.2 L-1,0 Z M0.8,-0.2 L1,0 L0.8,0.2 L0.6,0 Z"}
        },
        {
          "data": {"values": [{"a": 83, "b": 0.587, "t": "@ SteadyAlphaCall"}]},
          "mark": {"type": "text", "align": "left", "font": "Open Sans", "fontSize": 24, "color": "#dcdcdc"},
          "encoding": {"text": {"field": "t"}}
        }
      ]
    }
  ]
}
